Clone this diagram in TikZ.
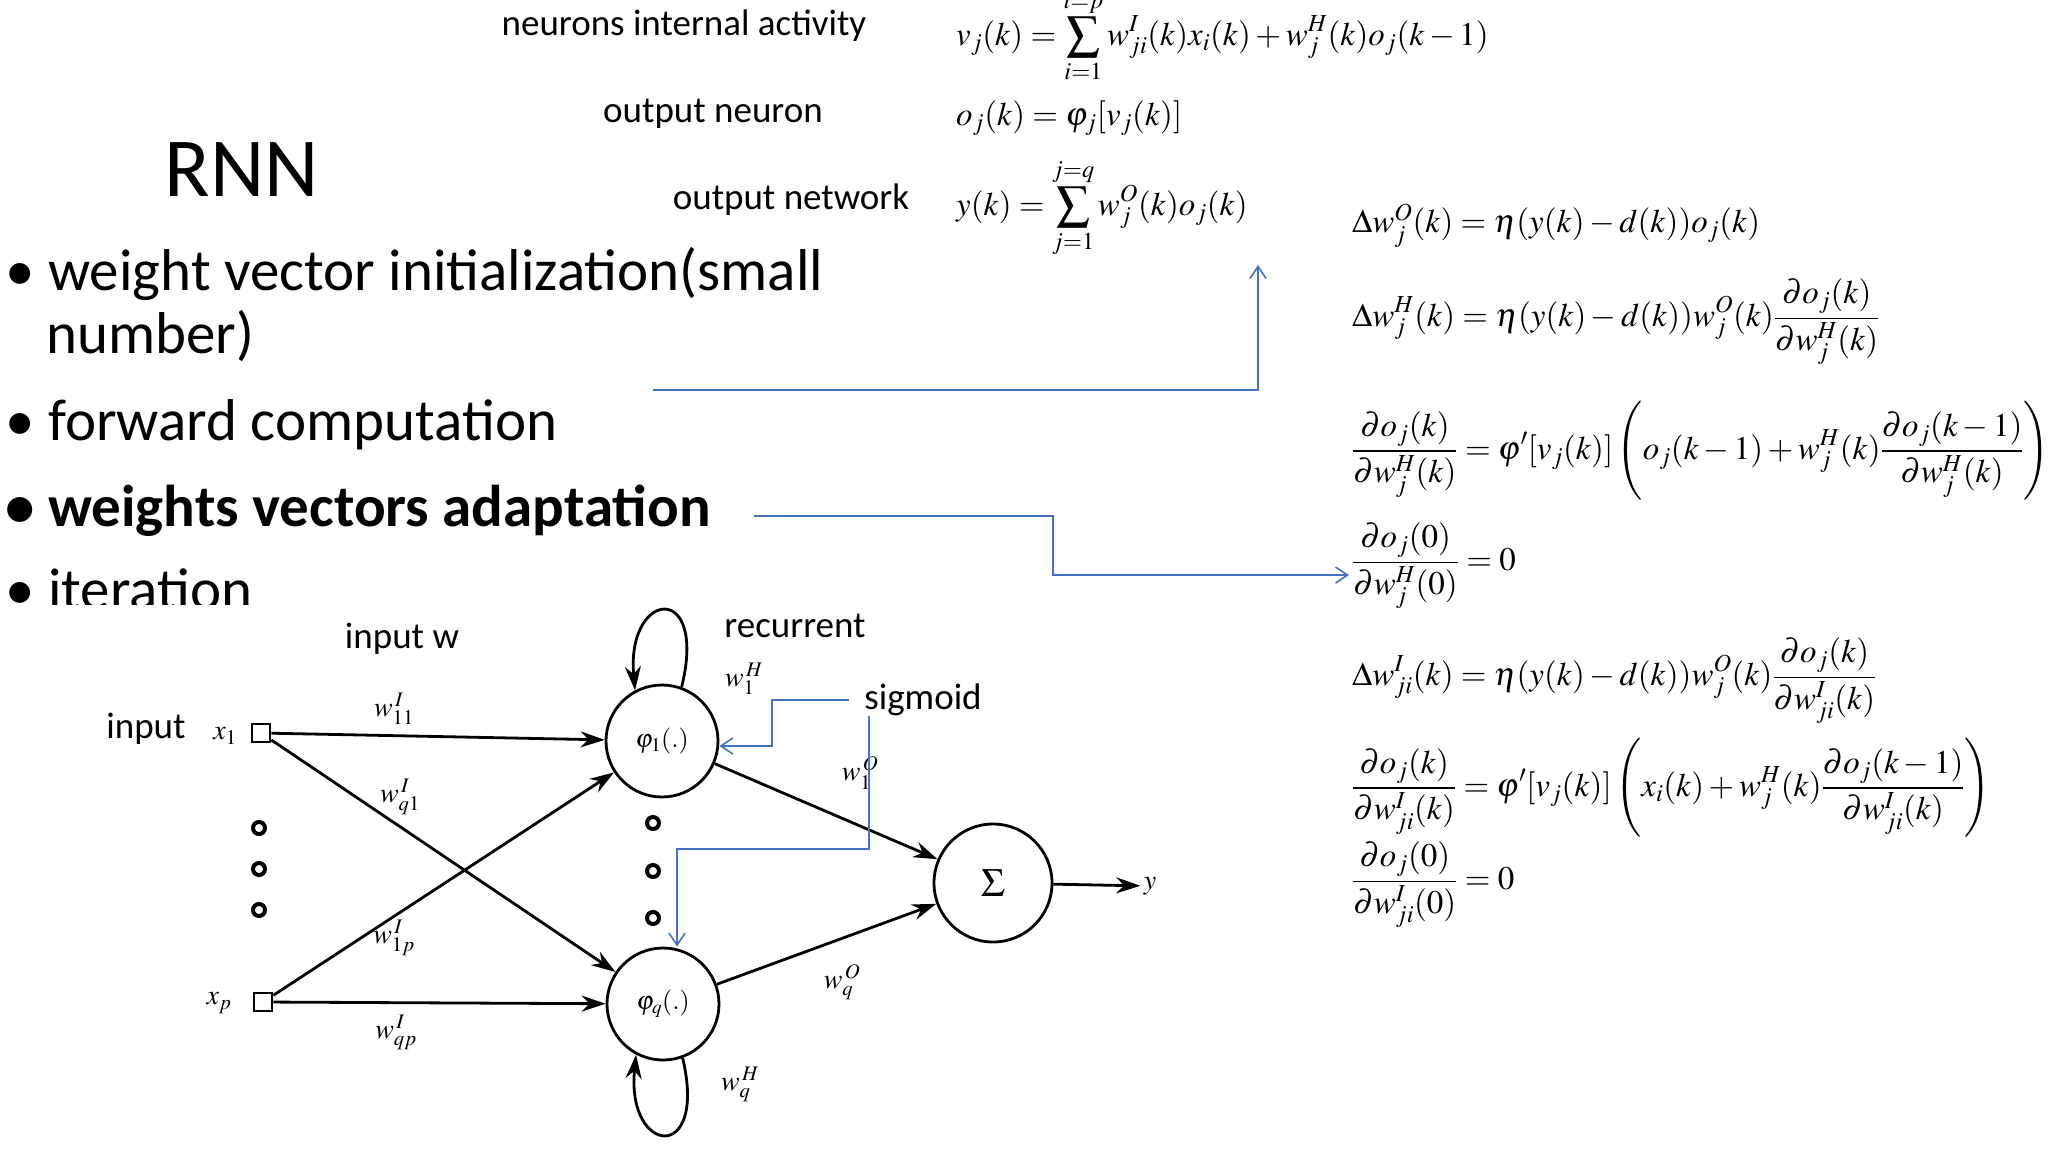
\RequirePackage{fix-cm}
\documentclass[tikz,border=0pt]{standalone}
\usepackage{amsmath}
\usepackage{mathptmx}
\usepackage{fontspec}
\setmainfont{Carlito}
\usetikzlibrary{arrows.meta}
\begin{document}
\begin{tikzpicture}[x=1pt,y=-1pt,
  lbl/.style={font=\fontsize{37}{42}\selectfont},
  bul/.style={font=\fontsize{59}{66}\selectfont,anchor=base west},
  eq/.style={anchor=west,font=\fontsize{33}{38}\selectfont,inner sep=0pt},
  wl/.style={font=\fontsize{28}{32}\selectfont},
  neur/.style={circle,draw,line width=2.8pt,minimum size=112pt,inner sep=0pt,font=\fontsize{26}{30}\selectfont},
  blk/.style={line width=2.8pt,-{Stealth[length=24pt,width=16pt]}},
  blue/.style={draw={rgb,255:red,68;green,114;blue,196},line width=1.6pt,-{Straight Barb[length=12pt,width=16pt]}},
  sq/.style={draw,line width=2.8pt,minimum size=18pt,inner sep=0pt},
  dot/.style={circle,draw,line width=4pt,minimum size=12pt,inner sep=0pt}]
\useasboundingbox (0,0) rectangle (2048,1152);
\fill[white] (0,0) rectangle (2048,1152);
% title and bullets
\node[font=\fontsize{84}{90}\selectfont] (title) at (242,170) {RNN};
\node[bul] (b1) at (2,290) {• weight vector initialization(small};
\node[bul] (b1b) at (43,353) {number)};
\node[bul] (b2) at (2,440) {• forward computation};
\node[bul,font=\fontsize{59}{66}\bfseries\selectfont] (b3) at (2,526) {• weights vectors adaptation};
\node[bul] (b4) at (2,609) {• iteration};
\fill[white] (0,605) rectangle (600,640);
% top labels
\node[lbl] (l1) at (684,26) {neurons internal activity};
\node[lbl] (l2) at (713,114) {output neuron};
\node[lbl] (l3) at (791,200) {output network};
% forward equations
\node[eq] (e1) at (956,36) {$\displaystyle v_j(k)=\sum_{i=1}^{i=p} w^{I}_{ji}(k)x_i(k)+w^{H}_{j}(k)o_j(k-1)$};
\node[eq] (e2) at (956,118) {$o_j(k)=\varphi_j[v_j(k)]$};
\node[eq] (e3) at (956,208) {$\displaystyle y(k)=\sum_{j=1}^{j=q} w^{O}_{j}(k)o_j(k)$};
% adaptation equations
\node[eq] (a1) at (1352,226) {$\Delta w^{O}_{j}(k)=\eta(y(k)-d(k))o_j(k)$};
\node[eq] (a2) at (1352,322) {$\displaystyle \Delta w^{H}_{j}(k)=\eta(y(k)-d(k))w^{O}_{j}(k)\frac{\partial o_j(k)}{\partial w^{H}_{j}(k)}$};
\node[eq] (a3) at (1352,451) {$\displaystyle \frac{\partial o_j(k)}{\partial w^{H}_{j}(k)}=\varphi'[v_j(k)]\left(o_j(k-1)+w^{H}_{j}(k)\frac{\partial o_j(k-1)}{\partial w^{H}_{j}(k)}\right)$};
\node[eq] (a4) at (1352,566) {$\displaystyle \frac{\partial o_j(0)}{\partial w^{H}_{j}(0)}=0$};
\node[eq] (a5) at (1352,681) {$\displaystyle \Delta w^{I}_{ji}(k)=\eta(y(k)-d(k))w^{O}_{j}(k)\frac{\partial o_j(k)}{\partial w^{I}_{ji}(k)}$};
\node[eq] (a6) at (1352,788) {$\displaystyle \frac{\partial o_j(k)}{\partial w^{I}_{ji}(k)}=\varphi'[v_j(k)]\left(x_i(k)+w^{H}_{j}(k)\frac{\partial o_j(k-1)}{\partial w^{I}_{ji}(k)}\right)$};
\node[eq] (a7) at (1352,885) {$\displaystyle \frac{\partial o_j(0)}{\partial w^{I}_{ji}(0)}=0$};
% blue connectors
\coordinate (f0) at (653,390);
\coordinate (f1) at (1258,390);
\coordinate (f2) at (1258,265);
\draw[blue] (f0) -- (f1) -- (f2);
\coordinate (g0) at (754,516);
\coordinate (g1) at (1053,516);
\coordinate (g2) at (1349,575);
\draw[blue] (g0) -- (g1) |- (g2);
% network
\node[sq] (x1) at (261,733) {};
\node[sq] (xp) at (263,1002) {};
\node[neur] (p1) at (662,741) {$\varphi_1(.)$};
\node[neur] (pq) at (663,1004) {$\varphi_q(.)$};
\node[neur,minimum size=118pt,font=\fontsize{40}{44}\selectfont] (sg) at (993,883) {$\Sigma$};
\node[font=\fontsize{28}{32}\selectfont] (y) at (1150,886) {$y$};
\foreach \n/\x/\y in {d1/259/828,d2/259/869,d3/259/910,d4/653/823,d5/653/871,d6/653/918}
  \node[dot] (\n) at (\x,\y) {};
\draw[blk] (x1) -- (p1);
\draw[blk] (x1) -- (pq);
\draw[blk] (xp) -- (p1);
\draw[blk] (xp) -- (pq);
\draw[blk] (p1) -- (sg);
\draw[blk] (pq) -- (sg);
\draw[blk] (sg) -- (y);
\draw[blk] (p1.70) .. controls (708,580) and (626,590) .. (p1.118);
\draw[blk] (pq.-70) .. controls (708,1165) and (626,1155) .. (pq.-118);
% labels
\node[lbl] (iw) at (402,639) {input w};
\node[lbl] (rc) at (795,626) {recurrent};
\node[lbl] (sgm) at (923,700) {sigmoid};
\node[lbl] (inp) at (146,729) {input};
\node[wl] (x1l) at (225,736) {$x_1$};
\node[wl] (xpl) at (219,1003) {$x_p$};
\node[wl] (w11) at (394,709) {$w^{\,I}_{11}$};
\node[wl] (wq1) at (400,797) {$w^{\,I}_{q1}$};
\node[wl] (w1p) at (394,938) {$w^{\,I}_{1p}$};
\node[wl] (wqp) at (396,1032) {$w^{\,I}_{qp}$};
\node[wl] (wh1) at (744,679) {$w^{\,H}_{1}$};
\node[wl] (wo1) at (860,773) {$w^{\,O}_{1}$};
\node[wl] (woq) at (842,982) {$w^{\,O}_{q}$};
\node[wl] (whq) at (740,1084) {$w^{\,H}_{q}$};
% sigmoid connectors
\coordinate (s0) at (849,700);
\coordinate (s1) at (772,700);
\coordinate (s2) at (772,746);
\draw[blue] (s0) -- (s1) -- (s2) -- (p1.east |- s2);
\coordinate (t0) at (869,716);
\coordinate (t1) at (869,849);
\coordinate (t2) at (677,849);
\draw[blue] (t0) -- (t1) -- (t2) -- (pq.north -| t2);
\end{tikzpicture}
\end{document}
